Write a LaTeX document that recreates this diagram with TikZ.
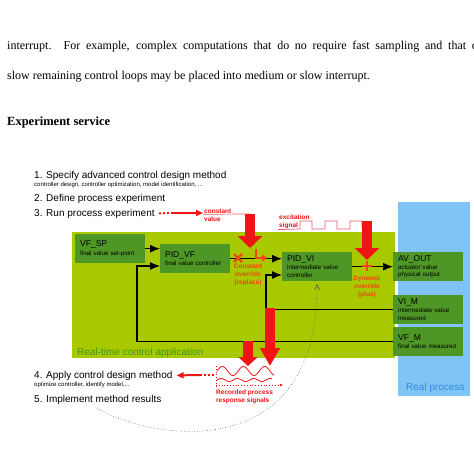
\documentclass[tikz,border=0pt]{standalone}
\usepackage{fontspec}
\setmainfont{Liberation Serif}
\newfontfamily\diagfont{Liberation Sans}
\usetikzlibrary{arrows.meta,calc}
\definecolor{limegr}{RGB}{168,200,0}
\definecolor{boxgr}{RGB}{78,150,38}
\definecolor{procbl}{RGB}{128,196,246}
\definecolor{sigred}{RGB}{240,20,20}
\definecolor{ovred}{RGB}{240,70,20}
\definecolor{pinkln}{RGB}{236,90,110}
\definecolor{appgr}{RGB}{62,150,32}
\definecolor{proctx}{RGB}{50,140,215}
\newcommand{\ttl}[1]{{\fontsize{8.5}{9}\selectfont #1}}

\begin{document}
\begin{tikzpicture}[
            x=1pt, y=-1pt,
            blk/.style={fill=boxgr, anchor=north west, minimum width=70pt, minimum height=29pt,
                inner xsep=5pt, inner ysep=2pt, text width=60pt, align=left,
                font=\diagfont\fontsize{6.2}{7.8}\selectfont},
            wire/.style={line width=1.2pt, -{Latex[length=10pt,width=8pt]}},
            bigred/.style={sigred, line width=10pt, -{Triangle[length=12pt,width=24pt]}},
            redmark/.style={ovred, line width=2.2pt},
            redlbl/.style={text=ovred, align=center, inner sep=0pt,
                font=\diagfont\bfseries\fontsize{6.5}{8}\selectfont},
            siglbl/.style={text=sigred, anchor=base west, inner sep=1pt,
                font=\diagfont\bfseries\fontsize{6.5}{8}\selectfont},
            stepline/.style={anchor=base west, inner sep=0pt, font=\diagfont\fontsize{10}{12}\selectfont},
            noteline/.style={anchor=base west, inner sep=0pt, font=\diagfont\fontsize{6}{7}\selectfont}
        ]
            \useasboundingbox (0,0) rectangle (474,460);

            % text of the page
            \node[anchor=base west, inner sep=0pt, font=\fontsize{12}{14}\selectfont] (par1) at (7,50)
                {\makebox[470pt][s]{interrupt. For example, complex computations that do no require fast sampling and that c}};
            \node[anchor=base west, inner sep=0pt, font=\fontsize{12}{14}\selectfont] (par2) at (7,79)
                {slow remaining control loops may be placed into medium or slow interrupt.};
            \node[anchor=base west, inner sep=0pt, font=\fontsize{12.5}{14}\selectfont\bfseries] (sect) at (7,125)
                {Experiment service};

            % regions
            \fill[limegr] (72,232) rectangle (395,358);
            \fill[procbl] (398,202) rectangle (470,396);
            \node[anchor=base west, inner sep=0pt, text=appgr, font=\diagfont\fontsize{10}{12}\selectfont] (rtapp) at (77,355)
                {Real-time control application};
            \node[anchor=base west, inner sep=0pt, text=proctx, font=\diagfont\fontsize{10}{12}\selectfont] (rproc) at (406,390)
                {Real process};

            % blocks
            \node[blk] (vfsp) at (75,234) {\ttl{VF\_SP}\\[1pt]final value set-point};
            \node[blk] (pidvf) at (160,244) {\ttl{PID\_VF}\\[1pt]final value controller};
            \node[blk] (pidvi) at (282,252) {\ttl{PID\_VI}\\[0pt]intermediate value\\controller};
            \node[blk] (avout) at (393,252) {\ttl{AV\_OUT}\\[0pt]actuator value\\physical output};
            \node[blk] (vim) at (393,295) {\ttl{VI\_M}\\[0pt]intermediate value\\measured};
            \node[blk] (vfm) at (393,327) {\ttl{VF\_M}\\[1pt]final value measured};

            % control loops
            \coordinate (fbvf) at (137,266);
            \coordinate (fbvi) at (266,275);
            \draw[wire] (vfsp.east) -- (vfsp.east -| pidvf.west);
            \draw[wire] (vfm.west) -| (fbvf) -- (fbvf -| pidvf.west);
            \draw[wire] (pidvf.east) -- (pidvf.east -| pidvi.west);
            \draw[wire] (vim.west) -| (fbvi) -- (fbvi -| pidvi.west);
            \draw[wire] (pidvi.east) -- (avout.west);

            % steps
            \node[stepline] (step1) at (34,178) {1. Specify advanced control design method};
            \node[noteline] (note1) at (34,186) {controller design, controller optimization, model identification, ...};
            \node[stepline] (step2) at (34,201) {2. Define process experiment};
            \node[stepline] (step3) at (34,216) {3. Run process experiment};
            \node[stepline] (step4) at (34,378) {4. Apply control design method};
            \node[noteline] (note4) at (34,386) {optimize controller, identify model,...};
            \node[stepline] (step5) at (34,402) {5. Implement method results};

            % constant override
            \node[siglbl] (cst) at (203,213) {constant};
            \node[siglbl] (cstv) at (203,221) {value};
            \coordinate (ctop) at (250,214);
            \coordinate (ctip) at (250,248);
            \coordinate (runend) at (172,213);
            \draw[sigred, line width=2pt, dotted] ($(step3.east)+(4,0)$) -- (runend);
            \draw[sigred, line width=2pt, -{Triangle[length=7pt,width=6pt]}] (runend) -- (cst.west |- runend);
            \draw[pinkln, line width=0.7pt] (cst.south west) -- (ctop);
            \draw[bigred] (ctop) -- (ctip);
            \draw[redmark] (234,254) -- (242,262) (234,262) -- (242,254);
            \draw[redmark, -{Triangle[length=5pt,width=7pt]}] (256,249) |- (267,258);
            \node[redlbl] (covr) at (248,275) {Constant\\override\\(replace)};

            % dynamic override
            \node[siglbl] (exc) at (278,219) {excitation};
            \node[siglbl] (sgn) at (278,227) {signal};
            \coordinate (dtop) at (367,221);
            \coordinate (dtip) at (367,260);
            \draw[pinkln, line width=0.7pt] (sgn.south west) -- (300,229)
                \foreach \x in {300,325,350} { -- (\x,229) -- (\x,221) -- (\x+12,221) -- (\x+12,229)};
            \draw[bigred] (dtop) -- (dtip);
            \draw[redmark] (362,266) -- (372,266) (367,261) -- (367,271);
            \node[redlbl] (dovr) at (367,287) {Dynamic\\override\\(plus)};

            % recorded signals
            \coordinate (rvf) at (248,341);
            \coordinate (rvi) at (270,308);
            \draw[sigred, line width=10pt, -{Triangle[length=9pt,width=19pt]}] (rvf) -- (248,366);
            \draw[sigred, line width=10pt, -{Triangle[length=18pt,width=19pt]}] (rvi) -- (270,366);
            \draw[sigred, line width=0.8pt, domain=217:274, samples=80, smooth] plot (\x,{371-4.5*sin((\x-217)*17)});
            \draw[sigred, line width=0.8pt, domain=217:272, samples=80, smooth] plot (\x,{380-1.5*sin((\x-217)*22)});
            \draw[sigred, line width=0.8pt, dotted] (216,366) -- (216,386);
            \draw[sigred, line width=0.8pt, dotted, -{Latex[length=3pt,width=3pt]}] (216,385) -- (283,385);
            \node[siglbl] (rec1) at (215,394) {Recorded process};
            \node[siglbl] (rec2) at (215,402) {response signals};
            \coordinate (applyend) at (200,375);
            \draw[sigred, line width=2pt, dotted] (214,375) -- (applyend);
            \draw[sigred, line width=2pt, -{Triangle[length=7pt,width=6pt]}] (applyend) -- ($(step4.east)+(4,0)$);

            % back to the controller
            \coordinate (arcend) at (317,284);
            \draw[gray!70!black, line width=0.6pt, dotted, -{Straight Barb[length=5pt,width=5pt]}]
                (97,408) .. controls (150,440) and (318,468) .. (arcend);
        \end{tikzpicture}
\end{document}
